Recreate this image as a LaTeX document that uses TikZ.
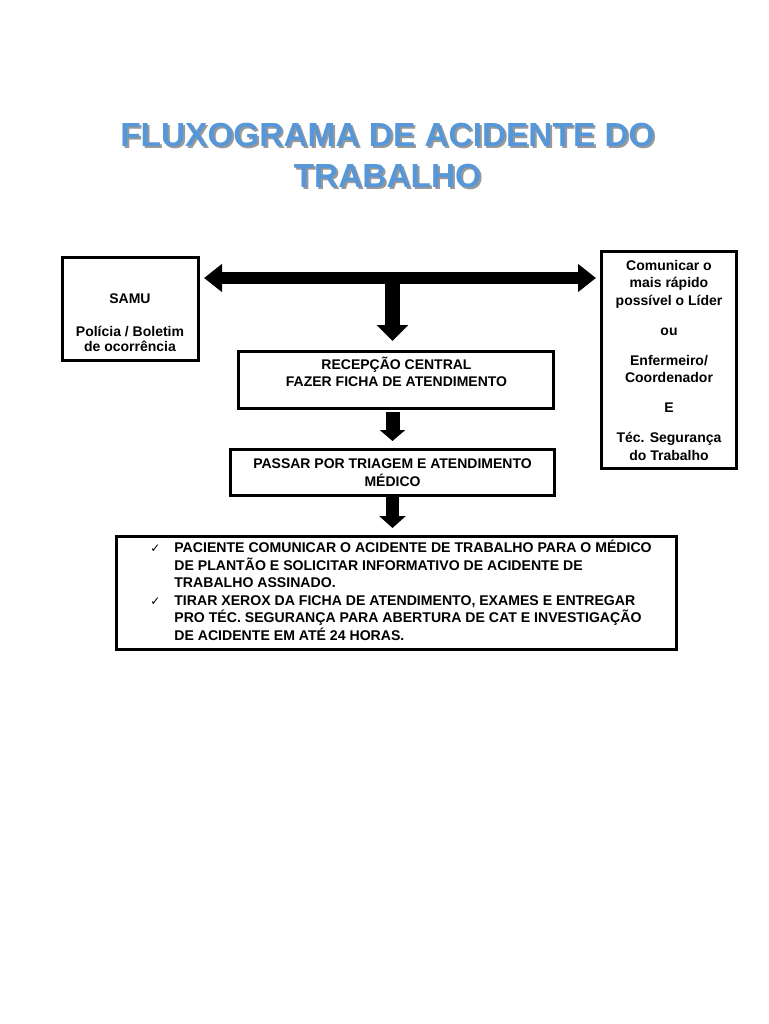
\documentclass[tikz,border=0pt]{standalone}
\usepackage{fontspec}
\setmainfont{Liberation Sans}
\newfontfamily\checkfont{DejaVu Sans}
\usetikzlibrary{arrows.meta}
\usetikzlibrary{positioning}
\usetikzlibrary{calc}
\definecolor{title-blue}{HTML}{5597D8}
\newcommand{\tick}{{\checkfont\fontsize{12}{12}\selectfont ✓}}

\begin{document}
\begin{tikzpicture}[x=1pt, y=-1pt,
  box/.style={draw, line width=2.6pt, inner sep=0pt, align=center, font=\bfseries\fontsize{14}{17.5}\selectfont},
  text only/.style={inner sep=0pt, align=center, font=\bfseries\fontsize{14}{17.5}\selectfont},
  title/.style={inner sep=0pt, align=center, font=\bfseries\fontsize{33.4}{41}\selectfont},
  fat arrow/.style n args={3}{line width=#1, -{Triangle[width=#2, length=#3]}},
  fat double arrow/.style n args={3}{line width=#1, {Triangle[width=#2, length=#3]}-{Triangle[width=#2, length=#3]}}]
\fill[white] (0,0) rectangle (768,1024);
\useasboundingbox (0,0) rectangle (768,1024);
% title with its shadow
\node[title, text=black!40]
  (title-shadow)
  at (389.5, 157.5)
  {FLUXOGRAMA DE ACIDENTE DO\\TRABALHO};
\node[title, text=title-blue]
  (title)
  at (387.5, 155.5)
  {FLUXOGRAMA DE ACIDENTE DO\\TRABALHO};
% boxes
\node[box, minimum width=136.4pt, minimum height=103.4pt]
  (samu)
  at (130.5, 309)
  {};
\node[text only]
  (samu-text)
  at (130, 323)
  {SAMU\\[15pt]Polícia / Boletim\\[-2pt]de ocorrência};
\node[box, minimum width=135.4pt, minimum height=217.4pt]
  (lider)
  at (669, 360)
  {Comunicar o\\mais rápido\\possível o Líder\\[12.5pt]ou\\[12.5pt]Enfermeiro/\\Coordenador\\[12.5pt]E\\[12.5pt]Téc. Segurança\\do Trabalho};
\node[box, minimum width=315.4pt, minimum height=57.4pt]
  (recepcao)
  at (396, 380)
  {};
\node[text only]
  (recepcao-text)
  at (396.5, 372)
  {RECEPÇÃO CENTRAL\\FAZER FICHA DE ATENDIMENTO};
\node[box, minimum width=324.4pt, minimum height=46.4pt]
  (triagem)
  at (392.5, 472.5)
  {PASSAR POR TRIAGEM E ATENDIMENTO\\MÉDICO};
\node[box, minimum width=560.4pt, minimum height=113.4pt, font=\bfseries\fontsize{14.1}{17.4}\selectfont]
  (paciente)
  at (396.5, 593)
  {\begin{tabular}{@{\hspace{9pt}}l@{\hspace{14pt}}l@{}}
    \tick & PACIENTE COMUNICAR O ACIDENTE DE TRABALHO PARA O MÉDICO\\
          & DE PLANTÃO E SOLICITAR INFORMATIVO DE ACIDENTE DE\\
          & TRABALHO ASSINADO.\\
    \tick & TIRAR XEROX DA FICHA DE ATENDIMENTO, EXAMES E ENTREGAR\\
          & PRO TÉC. SEGURANÇA PARA ABERTURA DE CAT E INVESTIGAÇÃO\\
          & DE ACIDENTE EM ATÉ 24 HORAS.
  \end{tabular}};
% arrows
\coordinate (junction) at (392.5, 278);
\draw[fat double arrow={12pt}{27pt}{18pt}, shorten <=4pt, shorten >=4pt]
  (samu.east |- junction) -- (lider.west |- junction);
\draw[fat arrow={15pt}{31pt}{16pt}, shorten >=9pt]
  (junction) -- (recepcao.north -| junction);
\draw[fat arrow={14pt}{25pt}{11pt}, shorten <=2pt, shorten >=7pt]
  (recepcao.south -| junction) -- (triagem.north -| junction);
\draw[fat arrow={13pt}{26pt}{12pt}, shorten <=-1pt, shorten >=7pt]
  (triagem.south -| junction) -- (paciente.north -| junction);
\end{tikzpicture}
\end{document}
